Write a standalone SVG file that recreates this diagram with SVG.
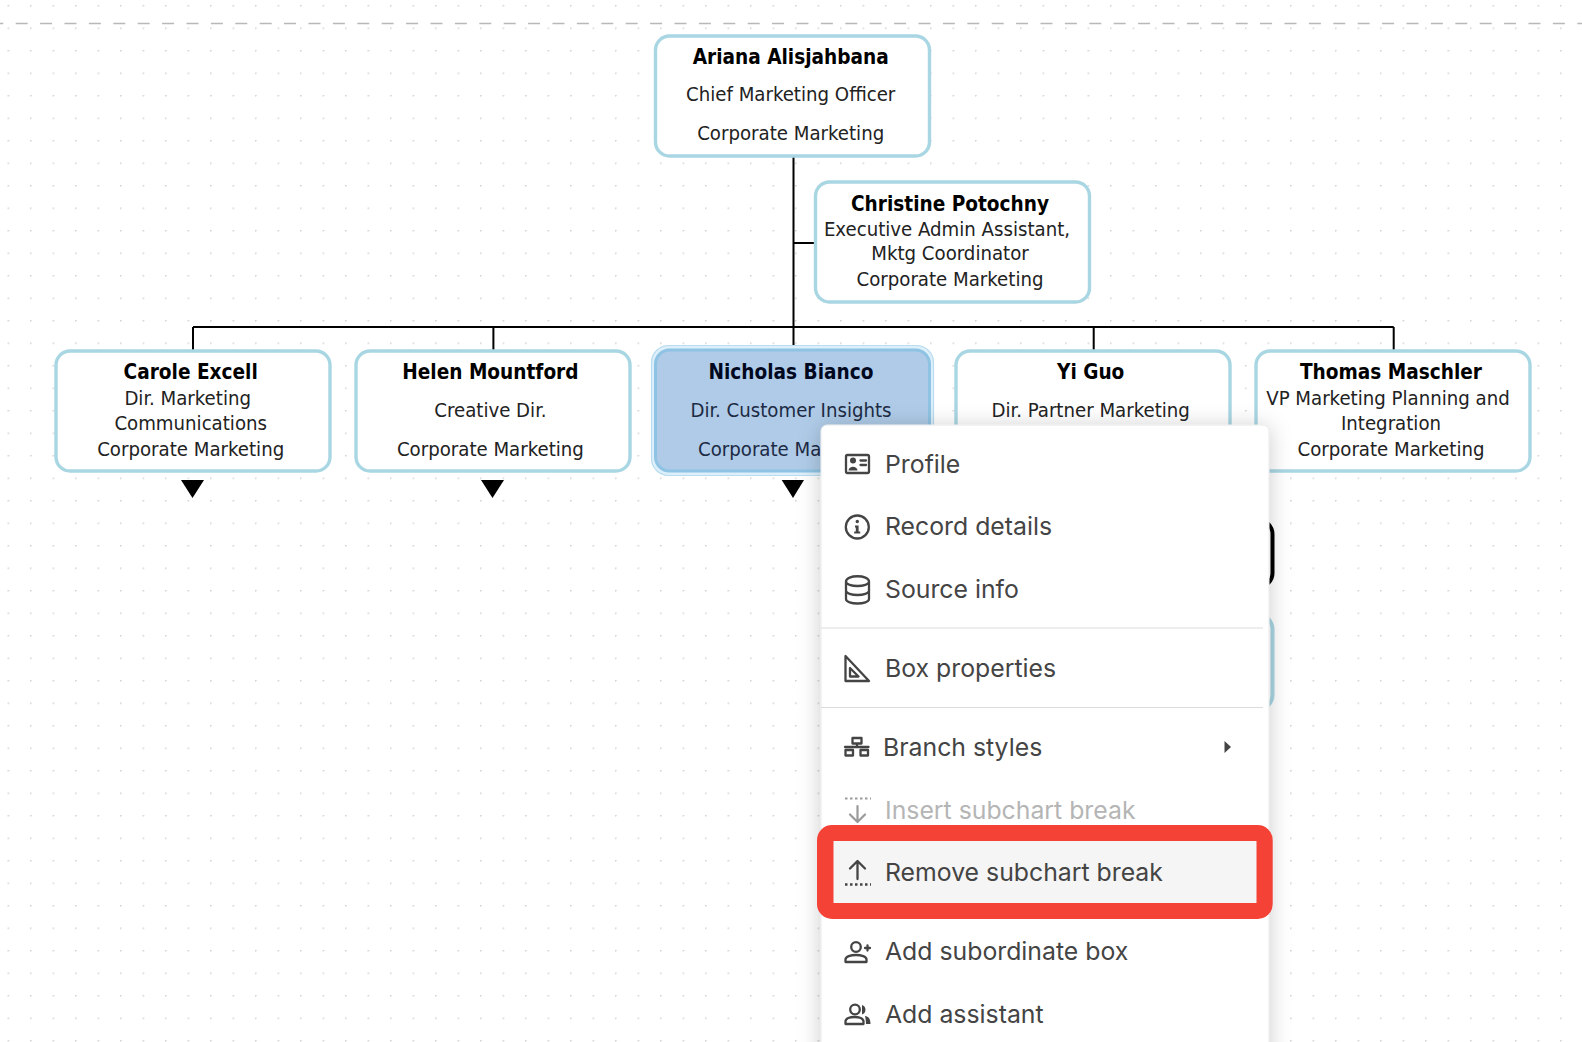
<svg xmlns="http://www.w3.org/2000/svg" width="1582" height="1042" viewBox="0 0 1582 1042">
<style>
.box{fill:#fff;stroke:#a9d6e3;stroke-width:3.4}
.n{font:bold 20.6px "DejaVu Sans Condensed","DejaVu Sans",sans-serif;fill:#000;text-anchor:middle}
.t{font:20.2px "DejaVu Sans Condensed","DejaVu Sans",sans-serif;fill:#222;text-anchor:middle}
.c{stroke:#000;stroke-width:2;fill:none}
.m{font:24.8px Inter,"Noto Sans",sans-serif;fill:#444}
.i{fill:none;stroke:#444;stroke-width:2.3;stroke-linecap:round;stroke-linejoin:round}
.f{fill:#444}
.tri{fill:#000}
</style>
<defs>
<pattern id="dots" x="7.6" y="5" width="22.5" height="22.5" patternUnits="userSpaceOnUse"><circle cx="0.5" cy="0.5" r="1.1" fill="#d0d0d0"/></pattern>
<filter id="sh" x="-15%" y="-15%" width="130%" height="130%"><feDropShadow dx="0" dy="2" stdDeviation="11" flood-color="#000" flood-opacity="0.2"/></filter>
</defs>
<rect width="1582" height="1042" fill="#fff"/>
<rect width="1582" height="1042" fill="url(#dots)"/>
<line x1="-8.7" y1="23.5" x2="1582" y2="23.5" stroke="#b8b8b8" stroke-width="1.4" stroke-dasharray="12 12.4"/>
<g id="connectors" class="c">
<path d="M793.5 157V350M793.5 243H814M193 327H1393.7M193 327V350M493.4 327V350M1093.7 327V350M1393.7 327V350"/>
</g>
<g id="node-ariana"><rect class="box" x="655.500" y="36" width="274" height="120" rx="14"/><text class="n" x="790.700" y="63.500">Ariana Alisjahbana</text><text class="t" x="790.700" y="101">Chief Marketing Officer</text><text class="t" x="790.700" y="140">Corporate Marketing</text></g>
<g id="node-christine"><rect class="box" x="815.500" y="182" width="274" height="120" rx="14"/><text class="n" x="950" y="210.500">Christine Potochny</text><text class="t" x="947" y="236">Executive Admin Assistant,</text><text class="t" x="950" y="260">Mktg Coordinator</text><text class="t" x="950" y="286">Corporate Marketing</text></g>
<g id="node-carole"><rect class="box" x="56" y="351" width="274" height="120" rx="14"/><text class="n" x="190.700" y="379">Carole Excell</text><text class="t" x="187.700" y="405">Dir. Marketing</text><text class="t" x="190.700" y="429.500">Communications</text><text class="t" x="190.700" y="455.500">Corporate Marketing</text><path class="tri" d="M181 480H204L192.500 498Z"/></g>
<g id="node-helen"><rect class="box" x="356" y="351" width="274" height="120" rx="14"/><text class="n" x="490.400" y="379">Helen Mountford</text><text class="t" x="490.400" y="416.500">Creative Dir.</text><text class="t" x="490.400" y="455.500">Corporate Marketing</text><path class="tri" d="M481 480H504L492.500 498Z"/></g>
<g id="node-nicholas"><rect x="651.500" y="345.500" width="282" height="130" rx="17" fill="#dceffa" stroke="#b9dcee" stroke-width="1.200"/><rect x="655.500" y="350" width="274" height="121" rx="14" fill="#afcbe7" stroke="#8fc3e3" stroke-width="3"/><text class="n" x="791" y="379" style="fill:#00081f">Nicholas Bianco</text><text class="t" x="791" y="416.500" style="fill:#1c2a44">Dir. Customer Insights</text><text class="t" x="698" y="455.500" style="fill:#1c2a44;text-anchor:start">Corporate Ma</text><path class="tri" d="M781.700 480H804L793 498Z"/></g>
<g id="node-yi"><rect class="box" x="956" y="351" width="274" height="120" rx="14"/><text class="n" x="1090.700" y="379">Yi Guo</text><text class="t" x="1090.700" y="416.500">Dir. Partner Marketing</text></g>
<g id="node-thomas"><rect class="box" x="1256" y="351" width="274" height="120" rx="14"/><text class="n" x="1391" y="379">Thomas Maschler</text><text class="t" x="1388" y="405">VP Marketing Planning and</text><text class="t" x="1391" y="429.500">Integration</text><text class="t" x="1391" y="455.500">Corporate Marketing</text></g>
<g id="node-hidden-black"><rect x="1100" y="520" width="172.500" height="67" rx="14" fill="#fff" stroke="#000" stroke-width="4"/></g>
<g id="node-hidden-blue"><rect x="1100" y="615" width="172.500" height="94" rx="14" fill="#fff" stroke="#a9d6e3" stroke-width="4"/></g>
<g id="context-menu">
<rect x="821" y="425" width="448" height="640" rx="6" fill="#fff" stroke="#e8e8e8" stroke-width="1" filter="url(#sh)"/>
<path d="M821 628H1263M821 707.500H1263" stroke="#dcdcdc" stroke-width="1.200"/>
<g id="item-profile"><rect class="i" x="846" y="455" width="23" height="18" rx="1.500"/><circle class="f" cx="853" cy="460.500" r="3"/><path class="f" d="M848.500 470.500c.5-5 8.500-5 9 0Z"/><path class="i" d="M860.500 460.500H866M860.500 465H866" stroke-width="1.600"/><text class="m" x="885" y="473">Profile</text></g>
<g id="item-record"><circle class="i" cx="857.300" cy="527" r="11.500"/><circle class="f" cx="857.300" cy="521.500" r="1.700"/><path class="f" d="M855 525.500h3.600v6h1.600v2h-6v-2h1.600v-4h-.8Z"/><text class="m" x="885" y="535">Record details</text></g>
<g id="item-source"><path class="i" d="M846 581.500c0-7 23-7 23 0V599c0 6-23 6-23 0ZM846 581.500c0 6 23 6 23 0M846 590.500c0 6 23 6 23 0"/><text class="m" x="885" y="597.700">Source info</text></g>
<g id="item-box"><path class="i" d="M845.500 656V681H869ZM850 668V676.500H858.500Z"/><text class="m" x="885" y="676.700">Box properties</text></g>
<g id="item-branch"><path class="i" d="M852.500 738H861.500V743.500H852.500ZM845.500 750H853V755.500H845.500ZM860.500 750H868V755.500H860.500ZM845 747H868.500M857 743.500V747" stroke-width="1.800"/><text class="m" x="883" y="755.700">Branch styles</text><path class="f" d="M1224.500 741L1231 747L1224.500 753Z"/></g>
<g id="item-insert"><path d="M845 798.500H871" fill="none" stroke="#9a9a9a" stroke-width="2.200" stroke-dasharray="2.500 2.500"/><path d="M857.500 806V821.500M850 814.500L857.500 822L865 814.500" fill="none" stroke="#9a9a9a" stroke-width="2.200" stroke-linecap="round" stroke-linejoin="round"/><text class="m" x="885" y="819" style="fill:#b5b5b5">Insert subchart break</text></g>
<g id="highlight"><rect x="817" y="825" width="455.700" height="94" rx="15" fill="#f44336"/><rect x="833.500" y="841" width="423" height="62" fill="#f5f5f5"/></g>
<g id="item-remove"><path class="i" d="M857.500 879V861.500M850 868.500L857.500 861L865 868.500"/><path d="M845 884.500H871" fill="none" stroke="#444" stroke-width="2.400" stroke-dasharray="2.500 2.500"/><text class="m" x="885" y="880.700">Remove subchart break</text></g>
<g id="item-add-sub"><circle class="i" cx="856" cy="947" r="4.800"/><path class="i" d="M845.500 962V959.500c0-6 21-6 21 0V962Z"/><path class="i" d="M865 948H870M867.500 945.500V950.500" stroke-width="1.600"/><text class="m" x="885" y="960">Add subordinate box</text></g>
<g id="item-add-assist"><circle class="i" cx="855" cy="1009.500" r="4.800"/><path class="i" d="M845.500 1024V1021.500c0-6 18-6 18 0V1024Z"/><path class="f" d="M862 1005a5 5 0 0 1 0 9.500ZM865 1016c4 .5 5.500 3.500 5.500 8H866c0-3-.5-6-1-8Z"/><text class="m" x="885" y="1022.700">Add assistant</text></g>
</g>
</svg>
